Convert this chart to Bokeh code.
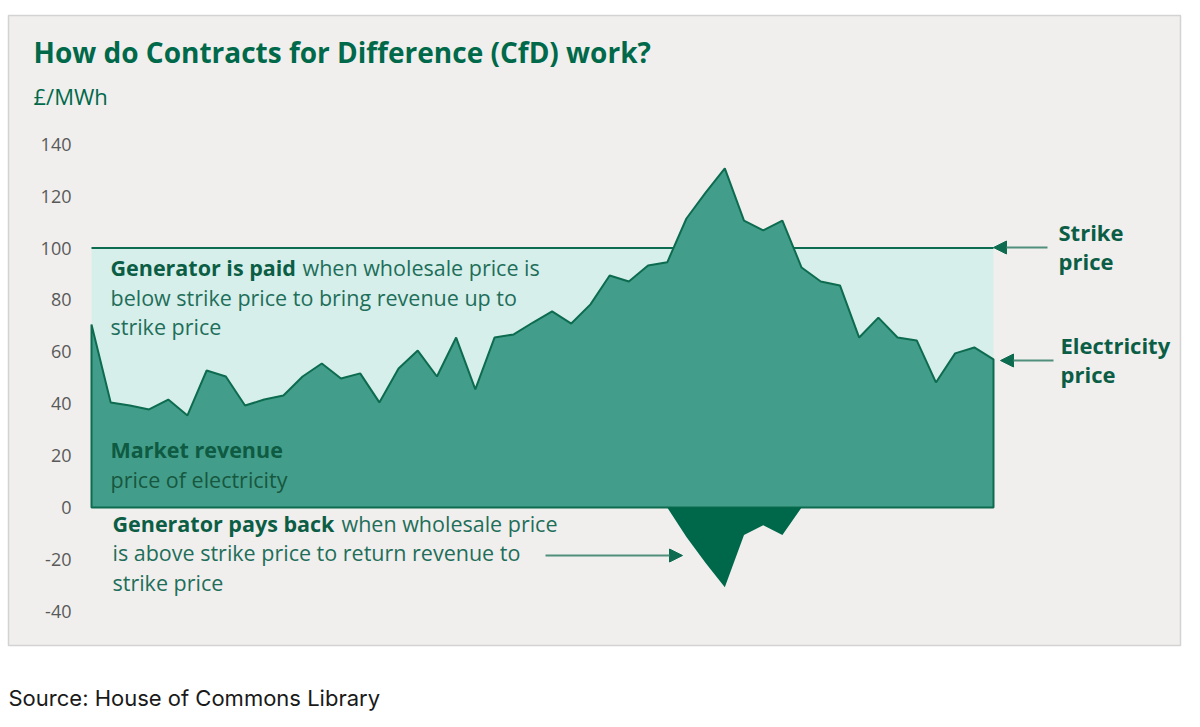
from bokeh.plotting import figure
from bokeh.models import Range1d, Arrow, NormalHead
from bokeh.core.properties import value
from bokeh.embed import file_html
from bokeh.resources import INLINE

# ---------------- data ----------------
period = list(range(48))
electricity_price = [70.5, 40.5, 39.3, 37.8, 41.6, 35.5, 52.8, 50.5, 39.3, 41.6,
                     43.2, 50.5, 55.5, 49.7, 51.7, 40.5, 53.6, 60.5, 50.5, 65.5,
                     45.5, 65.5, 66.7, 71.3, 75.6, 70.9, 78.3, 89.4, 87.1, 93.3,
                     94.5, 111.4, 121.4, 130.7, 110.6, 106.8, 110.6, 92.5, 87.1, 85.6,
                     65.5, 73.2, 65.5, 64.4, 48.2, 59.4, 61.7, 57.1]
strike_price = 100
y_ticks = [140, 120, 100, 80, 60, 40, 20, 0, -20, -40]
y_tick_labels = ["140", "120", "100", "80", "60", "40", "20", "0", "-20", "-40"]
payback = [-max(0.0, v - strike_price) for v in electricity_price]

# ---------------- layout helpers (page pixels -> data) ----------------
W, H = 1184, 711
X0, DX = 91.0, 902.0 / 47.0      # pixel of first period, pixels per period
Y0, SY = 507.0, 467.0 / 180.0    # pixel of zero, pixels per unit


def ix(px):
    return (px - X0) / DX


def iy(py):
    return (Y0 - py) / SY


p = figure(width=W, height=H, output_backend="svg", toolbar_location=None,
           x_range=Range1d(ix(0), ix(W)), y_range=Range1d(iy(H), iy(0)),
           x_axis_type=None, y_axis_type=None, min_border=0)
p.grid.visible = False
p.outline_line_color = None
p.background_fill_color = "white"
p.border_fill_color = "white"

PANEL = "#F0EFED"
LIGHT = "#D7EFEA"
MID = "#429E8A"
DARK = "#0D6B4F"
NEG = "#00684A"
TEXT = "#1E6E5A"
BOLD = "#0B5E45"
FONT = value("Open Sans")
FS = "21.5px"

# panel
p.quad(left=ix(8), right=ix(1180), top=iy(15), bottom=iy(645),
       fill_color=PANEL, line_color="#D3D3D3", line_width=1.5)

# light fill below strike price
p.quad(left=period[0], right=period[-1], bottom=0, top=strike_price,
       fill_color=LIGHT, line_color=None)
# strike price line
p.line(x=[period[0], period[-1]], y=[strike_price, strike_price], line_color=DARK, line_width=2)

# market revenue area
xs = [period[0]] + period + [period[-1]]
ys = [0] + electricity_price + [0]
p.patch(x=xs, y=ys, fill_color=MID, line_color=DARK, line_width=2)

# payback area
p.varea(x=period, y1=payback, y2=[0] * len(period), fill_color=NEG)

# y tick labels
p.text(x=[ix(71)] * len(y_ticks), y=y_ticks, text=y_tick_labels, text_font=FONT,
       text_font_size="18px", text_color="#595959", text_align="right", text_baseline="middle")

# title and unit
p.text(x=[ix(33)], y=[iy(51)], text=["How do Contracts for Difference (CfD) work?"],
       text_font=FONT, text_font_size="28px", text_font_style="bold",
       text_color="#00694A", text_baseline="middle")
p.text(x=[ix(33)], y=[iy(95)], text=["£/MWh"], text_font=FONT, text_font_size="22px",
       text_color="#00694A", text_baseline="middle")

# generator is paid
p.text(x=[ix(110)], y=[iy(267)], text=["Generator is paid"], text_font=FONT,
       text_font_size=FS, text_font_style="bold", text_color=BOLD, text_baseline="middle")
p.text(x=[ix(302)], y=[iy(267)], text=["when wholesale price is"], text_font=FONT,
       text_font_size=FS, text_color=TEXT, text_baseline="middle")
p.text(x=[ix(110), ix(110)], y=[iy(297), iy(326)],
       text=["below strike price to bring revenue up to", "strike price"], text_font=FONT,
       text_font_size=FS, text_color=TEXT, text_baseline="middle")

# market revenue
p.text(x=[ix(110)], y=[iy(449)], text=["Market revenue"], text_font=FONT,
       text_font_size=FS, text_font_style="bold", text_color="#0E5A42", text_baseline="middle")
p.text(x=[ix(110)], y=[iy(479)], text=["price of electricity"], text_font=FONT,
       text_font_size=FS, text_color="#17573F", text_baseline="middle")

# generator pays back
p.text(x=[ix(112)], y=[iy(523)], text=["Generator pays back"], text_font=FONT,
       text_font_size=FS, text_font_style="bold", text_color=BOLD, text_baseline="middle")
p.text(x=[ix(341)], y=[iy(523)], text=["when wholesale price"], text_font=FONT,
       text_font_size=FS, text_color=TEXT, text_baseline="middle")
p.text(x=[ix(112), ix(112)], y=[iy(552), iy(582)],
       text=["is above strike price to return revenue  to", "strike price"], text_font=FONT,
       text_font_size=FS, text_color=TEXT, text_baseline="middle")

# right-hand labels
p.text(x=[ix(1058), ix(1058)], y=[iy(231), iy(260)], text=["Strike", "price"], text_font=FONT,
       text_font_size="22px", text_font_style="bold", text_color=BOLD, text_baseline="middle")
p.text(x=[ix(1060), ix(1060)], y=[iy(344), iy(373)], text=["Electricity", "price"], text_font=FONT,
       text_font_size="22px", text_font_style="bold", text_color=BOLD, text_baseline="middle")

# arrows
for (x1, y1, x2, y2) in [(1047, 247, 993, 247), (1053, 360, 1000, 360), (545, 555, 682, 555)]:
    p.add_layout(Arrow(end=NormalHead(size=13, fill_color=DARK, line_color=DARK),
                       x_start=ix(x1), y_start=iy(y1), x_end=ix(x2), y_end=iy(y2),
                       line_color="#4F8F7C", line_width=2))

# source
p.text(x=[ix(8)], y=[iy(697)], text=["Source: House of Commons Library"], text_font=value("Inter"),
       text_font_size="22px", text_color="#1A1A1A", text_baseline="middle")

open("out.html", "w").write(file_html(p, INLINE))
